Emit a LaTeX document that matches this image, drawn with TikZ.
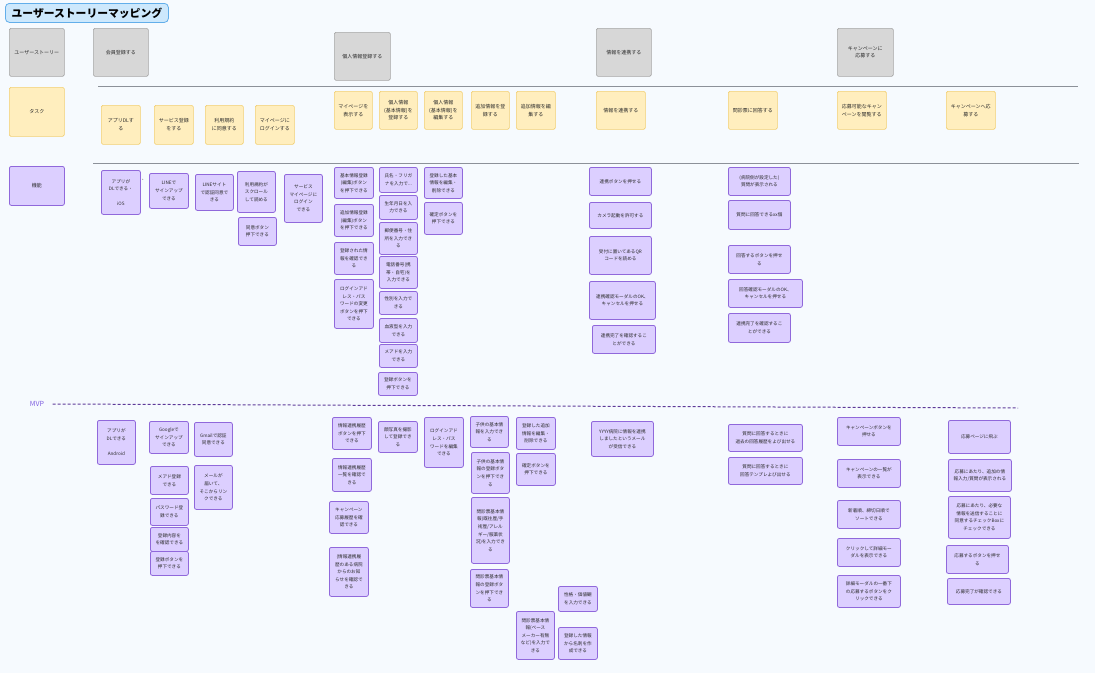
\documentclass[tikz,border=0pt]{standalone}
\usepackage{fontspec}
\setmainfont{Noto Sans CJK JP}
\definecolor{bgcol}{HTML}{F6FAFE}
\definecolor{ink}{HTML}{2A2A2A}
\definecolor{storyfill}{HTML}{D7D7D7}
\definecolor{storyline}{HTML}{A6A6A6}
\definecolor{taskfill}{HTML}{FFEEBE}
\definecolor{taskline}{HTML}{F2CF72}
\definecolor{featfill}{HTML}{DCCFFF}
\definecolor{featline}{HTML}{9068DB}
\definecolor{titlefill}{HTML}{CDE8FC}
\definecolor{titleline}{HTML}{62AEEA}
\definecolor{sepline}{HTML}{8C9199}
\definecolor{mvpline}{HTML}{5E3A99}
\definecolor{mvptext}{HTML}{8060E0}
\newcommand\cardfont{\fontsize{4.6}{7.6}\selectfont}
\newcommand\taskfont{\fontsize{5}{7.7}\selectfont}
\tikzset{
  card/.style={draw, rounded corners=1.5, anchor=north west, align=center, inner sep=1, text=ink},
  wh/.style 2 args={minimum width=#1, minimum height=#2},
  story/.style={card, fill=storyfill, draw=storyline, line width=0.6, font=\taskfont},
  task/.style={card, fill=taskfill, draw=taskline, line width=0.7, font=\taskfont},
  feat/.style={card, fill=featfill, draw=featline, line width=0.8, rounded corners=2, font=\cardfont},
  titlebox/.style={card, fill=titlefill, draw=titleline, line width=0.8, rounded corners=4, font=\fontsize{10.8}{12}\selectfont\bfseries, text=black},
  sep/.style={draw=sepline, line width=0.9},
  cut/.style={draw=mvpline, line width=1, dash pattern=on 3pt off 2pt},
}

\begin{document}
\begin{tikzpicture}[x=1pt, y=-1pt]
  \fill[bgcol] (0,0) rectangle (1095,673);

  % Title and user stories
  \node[titlebox, wh={163}{19}] (title) at (5,3) {ユーザーストーリーマッピング};
  \node[story, wh={55}{48}] (storyhead) at (9,28) {ユーザーストーリー};
  \node[story, wh={55}{48}] (signup) at (93,28) {会員登録する};
  \node[story, wh={56}{48}] (profile) at (334,32) {個人情報登録する};
  \node[story, wh={55}{48}] (linkup) at (596,28) {情報を連携する};
  \node[story, wh={56}{48}] (campaign) at (837,28) {キャンペーンに\\応募する};

  \draw[sep] (98,86) -- (1078,86);
  \draw[sep] (93,163) -- (1079,163);

  % Tasks
  \node[task, wh={55}{49}] (taskhead) at (9,87) {タスク};
  \node[task, wh={39}{39}] (dlapp) at (101,105) {アプリDLす\\る};
  \node[task, wh={39}{39}] (service) at (154,105) {サービス登録\\をする};
  \node[task, wh={38}{39}] (terms) at (205,105) {利用規約\\に同意する};
  \node[task, wh={39}{39}] (mypage) at (255,105) {マイページに\\ログインする};
  \node[task, wh={38}{38}] (showmp) at (334,91) {マイページを\\表示する};
  \node[task, wh={38}{38}] (regbasic) at (379,91) {個人情報\\(基本情報)を\\登録する};
  \node[task, wh={38}{38}] (editbasic) at (424,91) {個人情報\\(基本情報)を\\編集する};
  \node[task, wh={38}{38}] (regextra) at (471,91) {追加情報を登\\録する};
  \node[task, wh={39}{38}] (editextra) at (516,91) {追加情報を編\\集する};
  \node[task, wh={49}{38}] (linkinfo) at (596,91) {情報を連携する};
  \node[task, wh={49}{38}] (answerq) at (728,91) {問診票に回答する};
  \node[task, wh={49}{38}] (browsecp) at (837,91) {応募可能なキャン\\ペーンを閲覧する};
  \node[task, wh={49}{38}] (applycp) at (946,91) {キャンペーンへ応\\募する};

  % Features
  \node[feat, wh={55}{39}, font=\taskfont] (feathead) at (9,166) {機能};
  \node[feat, wh={39}{44}] (ios) at (101,170) {アプリが\\DLできる・\\[7pt]iOS};
  \node[text=ink, font=\cardfont] (stray) at (143,180) {・};
  \node[feat, wh={39}{35}] (lineup) at (149,173) {LINEで\\サインアップ\\できる};
  \node[feat, wh={38}{36}] (lineauth) at (195,174) {LINEサイト\\で認証同意で\\きる};
  \node[feat, wh={38}{41}] (scroll) at (237,171) {利用規約が\\スクロール\\して読める};
  \node[feat, wh={38}{28}] (agree) at (238,217) {同意ボタン\\押下できる};
  \node[feat, wh={38}{48}] (login) at (284,174) {サービス\\マイページに\\ログイン\\できる};

  \node[feat, wh={39}{31}] (basicbtn) at (334,167) {基本情報登録\\(編集)ボタン\\を押下できる};
  \node[feat, wh={39}{32}] (extrabtn) at (334,204) {追加情報登録\\(編集)ボタン\\を押下できる};
  \node[feat, wh={39}{32}] (checkreg) at (334,242) {登録された情\\報を確認でき\\る};
  \node[feat, wh={39}{49}] (addrbtn) at (334,279) {ログインアド\\レス・パス\\ワードの変更\\ボタンを押下\\できる};

  \node[feat, wh={38}{25}] (name) at (379,167) {氏名・フリガ\\ナを入力で...};
  \node[feat, wh={38}{24}] (birth) at (379,195) {生年月日を入\\力できる};
  \node[feat, wh={38}{32}] (address) at (379,222) {郵便番号・住\\所を入力でき\\る};
  \node[feat, wh={38}{32}] (phone) at (379,256) {電話番号(携\\帯・自宅)を\\入力できる};
  \node[feat, wh={38}{23}] (gender) at (379,291) {性別を入力で\\きる};
  \node[feat, wh={38}{24}] (blood) at (379,318) {血液型を入力\\できる};
  \node[feat, wh={38}{23}] (email) at (379,344) {メアドを入力\\できる};
  \node[feat, wh={39}{23}] (regbtn) at (378,372) {登録ボタンを\\押下できる};

  \node[feat, wh={38}{31}] (editdel) at (424,167) {登録した基本\\情報を編集・\\削除できる};
  \node[feat, wh={38}{32}] (okbtn) at (424,202) {確定ボタンを\\押下できる};

  \node[feat, wh={62}{28}] (linkbtn) at (589,167) {連携ボタンを押せる};
  \node[feat, wh={62}{26}] (camera) at (589,202) {カメラ起動を許可する};
  \node[feat, wh={62}{38}] (qrcode) at (589,236) {受付に置いてあるQR\\コードを読める};
  \node[feat, wh={66}{38}] (linkmodal) at (589,281) {連携確認モーダルのOK、\\キャンセルを押せる};
  \node[feat, wh={63}{28}] (linkdone) at (592,325) {連携完了を確認するこ\\とができる};

  \node[feat, wh={62}{28}] (question) at (728,167) {(病院側が設定した)\\質問が表示される};
  \node[feat, wh={62}{29}] (answer) at (728,200) {質問に回答できるxx個};
  \node[feat, wh={62}{28}] (ansbtn) at (728,245) {回答するボタンを押せ\\る};
  \node[feat, wh={74}{28}] (ansmodal) at (728,279) {回答確認モーダルのOK、\\キャンセルを押せる};
  \node[feat, wh={62}{29}] (ansdone) at (728,313) {連携完了を確認するこ\\とができる};

  % MVP cut
  \node[text=mvptext, font=\fontsize{7}{8}\selectfont] (mvp) at (37,404) {MVP};
  \path (mvp.east) ++(5,0) coordinate (cutstart);
  \coordinate (cutend) at (1018,408);
  \draw[cut] (cutstart) -- (cutend);

  % Below the MVP line
  \node[feat, wh={38}{44}] (android) at (97,420) {アプリが\\DLできる\\[8pt]Android};
  \node[feat, wh={39}{32}] (google) at (149,421) {Googleで\\サインアップ\\できる};
  \node[feat, wh={38}{34}] (gmail) at (194,422) {Gmailで認証\\同意できる};
  \node[feat, wh={38}{28}] (mailreg) at (150,466) {メアド登録\\できる};
  \node[feat, wh={38}{44}] (maillink) at (194,465) {メールが\\届いて、\\そこからリン\\クできる};
  \node[feat, wh={38}{27}] (pwreg) at (150,498) {パスワード登\\録できる};
  \node[feat, wh={38}{24}] (confirm) at (150,527) {登録内容を\\を確認できる};
  \node[feat, wh={38}{24}] (signbtn) at (150,551) {登録ボタンを\\押下できる};

  \node[feat, wh={39}{32}] (histbtn) at (332,417) {情報連携履歴\\ボタンを押下\\できる};
  \node[feat, wh={39}{33}] (histlist) at (332,458) {情報連携履歴\\一覧を確認で\\きる};
  \node[feat, wh={39}{32}] (cphist) at (329,501) {キャンペーン\\応募履歴を確\\認できる};
  \node[feat, wh={39}{49}] (notice) at (329,547) {(情報連携履\\歴のある病院\\からのお知\\らせを確認で\\きる};
  \node[feat, wh={39}{31}] (photo) at (378,421) {顔写真を撮影\\して登録でき\\る};
  \node[feat, wh={39}{50}] (addredit) at (424,417) {ログインアド\\レス・パス\\ワードを編集\\できる};

  \node[feat, wh={38}{31}] (kidinput) at (470,416) {子供の基本情\\報を入力でき\\る};
  \node[feat, wh={38}{41}] (kidbtn) at (471,452) {子供の基本情\\報の登録ボタ\\ンを押下でき\\る};
  \node[feat, wh={38}{66}] (history) at (471,497) {問診票基本情\\報(既往歴/手\\術歴/アレル\\ギー/服薬状\\況)を入力でき\\る};
  \node[feat, wh={38}{38}] (histreg) at (470,569) {問診票基本情\\報の登録ボタ\\ンを押下でき\\る};

  \node[feat, wh={39}{32}] (extraedit) at (516,417) {登録した追加\\情報を編集・\\削除できる};
  \node[feat, wh={39}{32}] (extraok) at (516,453) {確定ボタンを\\押下できる};
  \node[feat, wh={38}{48}] (pacemaker) at (516,611) {問診票基本情\\報(ペース\\メーカー有無\\など)を入力で\\きる};
  \node[feat, wh={39}{25}] (trait) at (558,586) {性格・価値観\\を入力できる};
  \node[feat, wh={39}{32}] (meishi) at (558,627) {登録した情報\\から名刺を作\\成できる};

  \node[feat, wh={62}{35}] (mailrecv) at (591,421) {YYYY病院に情報を連携\\しましたというメール\\が受信できる};
  \node[feat, wh={74}{27}] (pastans) at (728,424) {質問に回答するときに\\過去の回答履歴をよび出せる};
  \node[feat, wh={74}{27}] (template) at (728,457) {質問に回答するときに\\回答テンプレよび出せる};

  \node[feat, wh={63}{28}] (cpbtn) at (837,417) {キャンペーンボタンを\\押せる};
  \node[feat, wh={63}{28}] (cplist) at (837,459) {キャンペーンの一覧が\\表示できる};
  \node[feat, wh={63}{28}] (cpsort) at (837,500) {新着順、締切日順で\\ソートできる};
  \node[feat, wh={63}{28}] (cpmodal) at (837,538) {クリックして詳細モー\\ダルを表示できる};
  \node[feat, wh={63}{32}] (cpclick) at (837,575) {詳細モーダルの一番下\\の応募するボタンをク\\リックできる};

  \node[feat, wh={62}{33}] (applypage) at (948,420) {応募ページに飛ぶ};
  \node[feat, wh={63}{32}] (applyq) at (948,459) {応募にあたり、追加の情\\報入力/質問が表示される};
  \node[feat, wh={62}{42}] (applycheck) at (948,496) {応募にあたり、必要な\\情報を送信することに\\同意するチェックBoxに\\チェックできる};
  \node[feat, wh={62}{28}] (applybtn) at (946,545) {応募するボタンを押せ\\る};
  \node[feat, wh={63}{26}] (applydone) at (947,578) {応募完了が確認できる};
\end{tikzpicture}
\end{document}
